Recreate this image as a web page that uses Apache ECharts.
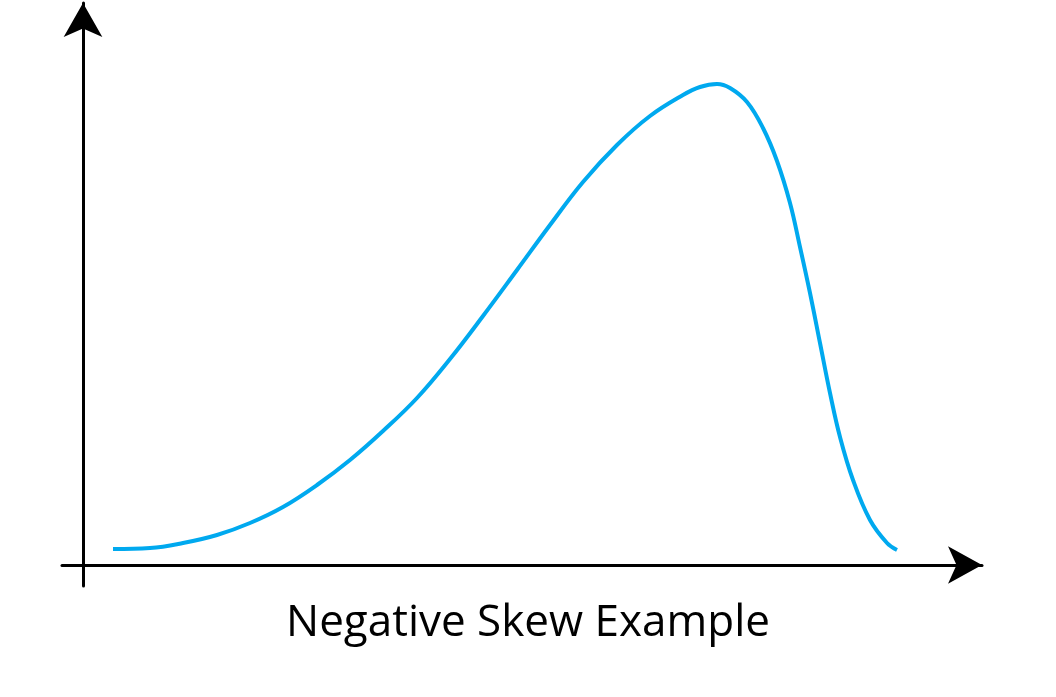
<!DOCTYPE html>
<html>
<head>
<meta charset="utf-8">
<script src="https://cdn.jsdelivr.net/npm/echarts@6/dist/echarts.min.js"></script>
<style>html,body{margin:0;padding:0;background:#fff;}#main{width:1056px;height:697px;}</style>
</head>
<body>
<div id="main"></div>
<script>
// Curve (x, y in arbitrary units; origin at axes crossing)
var curveX = [3.0, 6.7, 10.0, 13.4, 16.7, 20.0, 23.4, 26.7, 30.0, 33.4, 36.7, 40.0, 43.4, 46.7, 50.0, 53.4, 56.7, 60.0, 61.7, 63.4, 64.7, 66.4, 68.0, 69.4, 70.7, 71.7, 72.7, 73.7, 74.7, 75.7, 77.0, 78.7, 80.4, 81.4];
var curveY = [1.6, 1.7, 2.2, 3.0, 4.2, 5.8, 8.0, 10.5, 13.4, 16.7, 20.6, 24.9, 29.5, 34.0, 38.3, 42.0, 44.9, 47.0, 47.8, 48.1, 47.7, 46.3, 43.7, 40.4, 36.2, 31.8, 27.2, 22.2, 17.2, 12.8, 8.5, 4.5, 2.2, 1.5];
var titleText = 'Negative Skew Example';
var xRange = [-2.1, 89.9];
var yRange = [-2.1, 56.2];

var data = curveX.map(function (x, i) { return [x, curveY[i]]; });
var chart = echarts.init(document.getElementById('main'), null, {renderer: 'canvas'});
var axisLine = {
  show: true,
  onZero: true,
  symbol: ['none', 'arrow'],
  lineStyle: {color: '#000', width: 3}
};
chart.setOption({
  animation: false,
  backgroundColor: '#fff',
  title: {
    text: titleText,
    left: 'center',
    top: 596,
    textStyle: {fontFamily: 'Open Sans', fontSize: 44, fontWeight: 'normal', color: '#000'}
  },
  grid: {left: 62, right: 74, top: 3, bottom: 111},
  xAxis: {
    type: 'value', min: xRange[0], max: xRange[1],
    axisLine: Object.assign({}, axisLine, {symbolSize: [28, 34]}),
    axisTick: {show: false}, axisLabel: {show: false}, splitLine: {show: false}
  },
  yAxis: {
    type: 'value', min: yRange[0], max: yRange[1],
    axisLine: Object.assign({}, axisLine, {symbolSize: [29, 34]}),
    axisTick: {show: false}, axisLabel: {show: false}, splitLine: {show: false}
  },
  series: [{
    type: 'line',
    data: data,
    smooth: 0.4,
    symbol: 'none',
    lineStyle: {color: '#00A9EF', width: 4}
  }]
});
</script>
</body>
</html>
